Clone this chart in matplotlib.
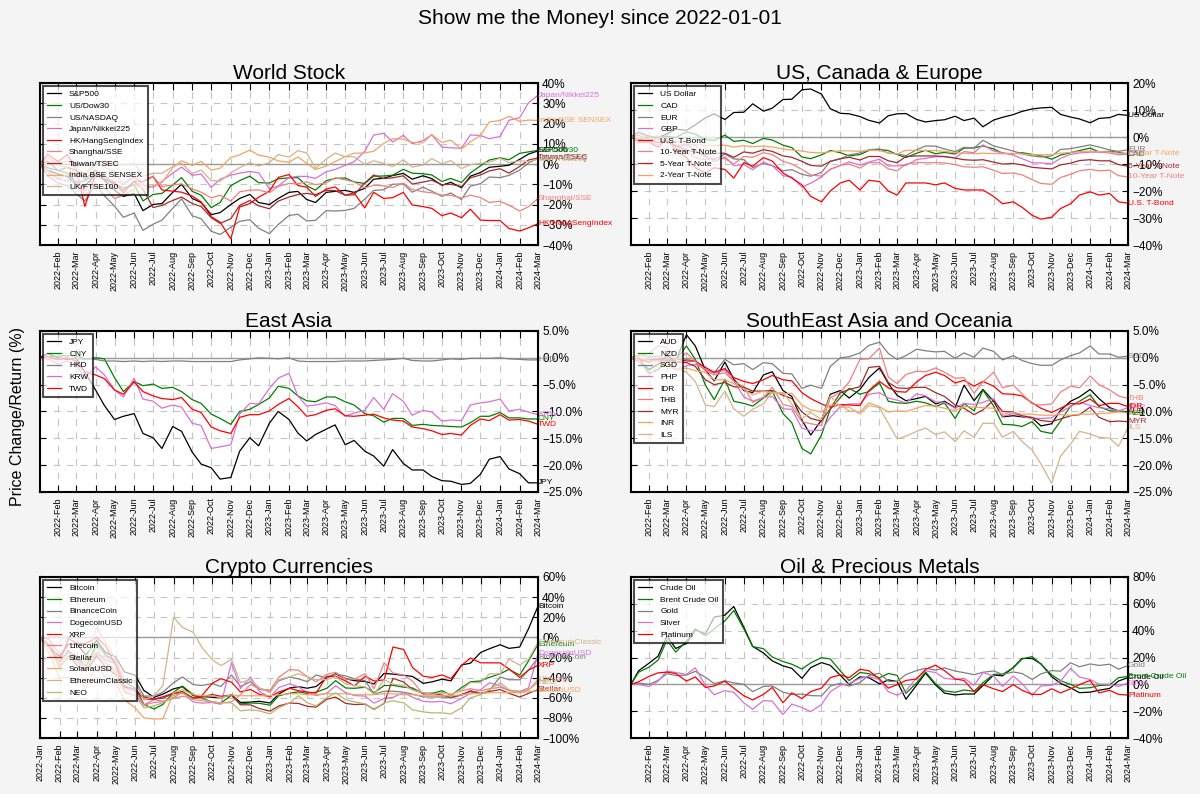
import matplotlib
matplotlib.use("Agg")
import matplotlib.pyplot as plt
import matplotlib.dates as mdates
from matplotlib.ticker import PercentFormatter, MultipleLocator
import pandas as pd

# ---------------- data (percent change since 2022-01-01, semi-monthly samples) ----------------
CRYPTO_DATES = list(pd.date_range("2022-01-01", "2024-03-01", freq="SMS"))
MARKET_DATES = [pd.Timestamp("2022-01-03")] + CRYPTO_DATES[1:]

# World Stock
STOCK_NAMES = ["S&P500", "US/Dow30", "US/NASDAQ", "Japan/Nikkei225", "HK/HangSengIndex",
               "Shanghai/SSE", "Taiwan/TSEC", "India BSE SENSEX", "UK/FTSE100"]
SP500 = [0, -3, -5, -6, -10, -11, -5, -8, -13, -16, -14.5, -23, -20, -19.5, -14, -10, -17, -19, -25, -24, -20, -17, -15, -19,
         -20, -17, -14, -13.5, -17.5, -19, -14, -13.5, -13, -14, -12, -7.5, -7, -5.7, -4.6, -7.5, -5.8, -7.2, -10.5, -9, -11.7, -6, -4.2, -1.6,
         -1.1, -0.6, 2.3, 4.9, 6.5]
DOW30 = [0, -1.8, -3.2, -4.4, -9, -8.3, -4.8, -5.8, -9.6, -11.9, -10.3, -18.2, -15, -14.5, -10.4, -6.7, -13.5, -15.4, -21.5, -19, -10.7, -8.2, -6, -9.2,
         -9.4, -7.3, -6.8, -6.7, -10.7, -12.9, -8.2, -7.1, -6.9, -8.8, -9.6, -6, -5.9, -5.5, -2.6, -4.5, -4.8, -5.4, -8.6, -7.1, -9.1, -4.4, -0.9, 2,
         3.1, 2.1, 5.3, 6, 6.8]
NASDAQ = [0, -5.9, -9.4, -10.7, -14.5, -18.2, -9.9, -15.7, -20.8, -26.3, -24.2, -32.8, -29.7, -27.7, -21.9, -17.2, -25.6, -27, -33.2, -34.8, -31.2, -28.3, -27.5, -31.7,
          -34.4, -29.9, -25.4, -24.8, -28.1, -27.8, -23, -23.2, -22.9, -21.9, -17.3, -13, -12.7, -10, -9.8, -13.9, -11.4, -13.4, -16, -14.3, -17.5, -10.9, -9.7, -6.4,
          -6.7, -5.6, -3, 0.5, 2.8]
NIKKEI = [0, -4, -7.6, -8.3, -8.4, -13.5, -5.6, -7.5, -8.5, -9.4, -6.3, -10.2, -11.5, -8.6, -4.5, -1.5, -5.6, -4.9, -11.5, -7.5, -5.5, -4.5, -3.7, -4.3,
          -12.2, -10.8, -6.7, -6.1, -6.1, -7.1, -3.8, -2.7, -0.6, 1.1, 6.3, 14.3, 15.2, 10.9, 14.2, 10, 11.6, 14.4, 8.4, 8, 7.8, 14.4, 14.1, 12.5,
          13.6, 21.6, 22.9, 30.2, 34]
HANGSENG = [0, 4.8, 1.2, 4.6, -2.2, -20.9, -5.3, -7.5, -9.3, -14.3, -8.5, -8.5, -6.1, -12.8, -13.4, -13.9, -15.8, -18.7, -26, -28.7, -36.9, -21.2, -19.5, -16.4,
            -13.4, -6.6, -5.2, -10.6, -11.4, -16, -12.3, -11.3, -15.4, -14.2, -21.7, -14, -17, -16.6, -14, -20.2, -21, -21.9, -25.5, -24.2, -26.5, -22.3, -27.7, -27.9,
            -27.9, -31.8, -33.1, -31.5, -29.5]
SSE = [0, -3, -7.5, -5.1, -4, -15.6, -9.6, -11.6, -17, -15.4, -12.4, -9, -6.2, -11.1, -10.3, -9.8, -12.3, -13.9, -16.7, -15.4, -18.3, -13.7, -12.9, -12.8,
       -14.2, -11.1, -9.6, -9.7, -8.8, -10.2, -9.3, -6.8, -7.8, -8.8, -11.8, -10.5, -10.7, -11.6, -9.4, -12.6, -13.7, -14.2, -15.3, -15.4, -16.8, -15.4, -16.5, -19,
       -18.4, -20.3, -23.2, -21.1, -17]
TSEC = [0, 1.4, -3.3, -1.6, -3.1, -7.4, -3.1, -7.5, -9.9, -13, -8.7, -12.4, -21.5, -20.4, -18, -16.3, -19.5, -21, -26.5, -29.3, -27, -20.4, -18, -20.6,
        -22.1, -18.3, -16.3, -15.1, -14.5, -15.1, -13, -13.1, -15.4, -15.2, -9.3, -5.4, -7.2, -6.8, -5.8, -9.9, -8.9, -8, -10.2, -10, -11.1, -6.8, -5.4, -3.4,
        -2.3, -4.5, -1.2, 2, 3]
SENSEX = [0, 3.4, -0.5, -1.8, -6.3, -5.8, 0.2, -1.4, -3.7, -10.5, -6.4, -13.2, -10.6, -9.2, -1.8, 1.6, -0.7, 1.3, -3, -2.1, 3.3, 4.5, 6.9, 4.4,
          3.4, 1.5, 0.9, 3.5, 0.4, -2.7, -1, 1.2, 3.7, 5.3, 5.5, 6.3, 10.2, 12.5, 12.3, 10.7, 10.5, 14.6, 10.7, 11.8, 7.4, 11, 14, 20.8,
          21.5, 23.6, 21.1, 21.7, 21.5]
FTSE100 = [0, 0.5, 0.4, 1.4, -2.3, -4.4, 0.4, 1.5, 0.8, -0.5, 0.4, -6.1, -4.5, -4.6, -1.2, 0.4, -4.7, -3, -8.1, -8.5, -4.3, -1.8, 0.7, -1,
           0.7, 4.7, 3.4, 6.6, 5.5, -2.1, 2.4, 5.4, 3.6, 3.6, -0.2, 1.6, 0.3, -1.3, 2.1, -1.5, -0.5, 2.7, 0.1, 1.7, -2.2, -0.3, 0.3, 0.9,
           2.9, 0.7, 1.6, 1.2, 2.4]

# US, Canada & Europe
USCE_NAMES = ["US Dollar", "CAD", "EUR", "GBP", "U.S. T-Bond", "10-Year T-Note", "5-Year T-Note", "2-Year T-Note"]
USD = [0, -1, 0, -0.2, 1.2, 2.9, 2.5, 4.5, 7.1, 8.6, 6.5, 9.1, 9.2, 12.3, 9.6, 10.7, 13.9, 14, 17.5, 17.8, 15.9, 10.5, 8.8, 8.6,
       7.6, 6.2, 5.2, 7.9, 8.6, 8.7, 6.5, 5.6, 6.1, 6.4, 7.7, 6.1, 7, 3.8, 6.3, 7.3, 8.3, 9.5, 10.4, 10.8, 11, 8.4, 7.4, 6.7,
       5.3, 6.9, 7.2, 8.4, 8]
CAD = [0, 1.9, 0.3, 0, 0.3, -0.2, 1.9, 1.1, -0.9, -1.2, 0.7, -1.6, -1.2, -2.4, -0.5, -1.1, -3, -3.9, -7.4, -8, -6.6, -5, -5.8, -7,
       -6.5, -5, -4.6, -5, -6.5, -7.6, -6, -4.9, -6.2, -5.7, -6.3, -4.1, -4, -3.3, -4.4, -6, -6.2, -5.8, -6.4, -6.9, -8.2, -6.7, -5.8, -5,
       -4.1, -5.5, -5.3, -5.7, -6.3]
EUR = [0, 0.7, -1.1, -0.1, -2.1, -3.6, -2.8, -4.9, -7.3, -8.4, -6.3, -8.1, -8.4, -11.3, -9.8, -10.6, -12.5, -12.1, -13.8, -14.5, -13.1, -9, -8.1, -6.6,
       -5.9, -4.7, -4.4, -6, -6.2, -6.9, -4.7, -3.3, -3.4, -4.4, -5.4, -3.8, -4.1, -1.2, -3.3, -4.1, -5.2, -6.2, -7, -7.4, -7, -4.6, -4.3, -3.7,
       -2.9, -3.7, -4.8, -5.3, -4.7]
GBP = [0, 1.5, -0.2, 0.4, -1.1, -3.2, -2.7, -3.1, -6.8, -9.1, -7.3, -10.6, -10.2, -12.1, -9.3, -10.6, -14.3, -14.8, -18.5, -17.1, -14.8, -11.9, -10.5, -9.2,
       -10.4, -9.3, -8.2, -10.7, -10.7, -10.5, -8.3, -7.9, -7.3, -7.3, -7.7, -5.4, -5.8, -2.9, -5.2, -5.8, -6.7, -8, -9.5, -9.6, -9.9, -7.9, -6.4, -5.9,
       -5.6, -5.6, -5.9, -6.6, -6.2]
TBOND = [0, -1.9, -1.9, -3.8, -0.6, -5, -7.6, -11.4, -13.3, -11.4, -12, -15.2, -9.5, -10.8, -7.6, -8.9, -13.3, -15.2, -17.7, -22, -24, -20, -17, -16,
         -19.6, -16, -16.5, -20, -21.5, -17, -17, -17, -17.7, -17, -19, -19.6, -19.6, -19.6, -22, -24.7, -24, -26, -29, -30.4, -29.7, -26.5, -24.7, -21.5,
         -20.3, -21.5, -20.9, -24, -24.5]
TNOTE10 = [0, -1.5, -1.8, -2.8, -1.5, -4.2, -5.5, -7.5, -8.5, -7.8, -8, -10, -7.2, -7.5, -5.8, -6.5, -9, -10, -12, -14, -14.5, -12, -10.5, -10,
           -11.5, -9.5, -9.5, -11.8, -12.5, -10, -9.5, -9.5, -9.5, -9.6, -10.2, -11, -11.2, -11, -12.3, -13.5, -13.3, -14, -15.8, -17.2, -17.5, -15, -13.8, -12.5,
           -12, -12.5, -12.3, -14.3, -14.8]
TNOTE5 = [0, -1, -1.3, -2, -1.3, -3.2, -4.8, -5.6, -6.5, -6, -6, -7.5, -5.5, -6, -4.7, -5.3, -7, -7.5, -9, -10.5, -10.8, -9, -8, -7.5,
          -8.5, -7.2, -7.2, -8.8, -9.5, -7.2, -7, -7, -7, -7.2, -7.8, -8.4, -8.6, -8.4, -9.3, -10, -9.8, -10.3, -11.2, -11.5, -11.8, -10.3, -9.7, -8.7,
          -8.4, -8.8, -8.8, -10.2, -10.8]
TNOTE2 = [0, -0.3, -0.6, -1, -0.9, -1.6, -2.5, -2.8, -3.1, -3.1, -3, -3.7, -3.2, -3.6, -3.3, -3.7, -4.4, -4.8, -5.2, -5.7, -5.9, -5.4, -5.1, -5.1,
          -5.3, -4.9, -5, -5.9, -6.3, -4.9, -4.9, -5, -5, -5.3, -5.8, -6, -6.2, -6, -6.1, -6.2, -6, -6.3, -6.5, -6.6, -6.5, -6, -5.7, -5.4,
          -5.2, -5.4, -5.5, -6, -6]

# East Asia
EA_NAMES = ["JPY", "CNY", "HKD", "KRW", "TWD"]
JPY = [0, 0.8, 0, -0.3, 0, -2.7, -6, -8.9, -11.5, -10.9, -10.4, -14.1, -14.9, -16.9, -12.8, -13.7, -17.6, -19.8, -20.5, -22.6, -22.3, -17.4, -14.9, -16.4,
       -12.2, -10, -11.5, -14, -15.5, -14.3, -13.3, -12.5, -16.2, -15.4, -17.4, -18.3, -20.2, -17.1, -19.7, -20.9, -20.9, -22.1, -22.9, -23, -23.6, -23.4, -21.7, -18.9,
       -18.4, -20.7, -21.6, -23.3, -23.3]
CNY = [0, 0.2, 0.3, 0.4, 0.4, -0.2, 0, -0.2, -3.7, -6.3, -4.4, -5.2, -4.9, -5.7, -5.5, -6.3, -7.8, -8.5, -10.5, -11.3, -12.4, -10, -9.6, -8.7,
       -7.5, -5.3, -5.7, -7.1, -8, -8.2, -7.3, -7.3, -8.2, -8.8, -10.4, -10.8, -12, -11.3, -11.3, -12.6, -12.4, -12.6, -12.7, -12.8, -12.9, -12.1, -10.9, -10.9,
       -10.2, -11.2, -11.2, -11.4, -11.4]
HKD = [0, -0.2, -0.1, -0.1, -0.2, -0.3, -0.3, -0.6, -0.6, -0.7, -0.6, -0.7, -0.6, -0.7, -0.6, -0.6, -0.7, -0.7, -0.7, -0.7, -0.7, -0.4, -0.2, 0.0,
       -0.1, -0.2, 0.0, -0.6, -0.7, -0.7, -0.7, -0.7, -0.6, -0.6, -0.6, -0.5, -0.4, -0.3, -0.1, -0.5, -0.6, -0.6, -0.4, -0.2, -0.3, -0.1, -0.1, -0.1,
       0.0, -0.2, -0.3, -0.4, -0.4]
KRW = [0, -0.2, -1.2, -0.6, -1.2, -3.8, -1.7, -3.2, -6, -7.3, -3.8, -7.7, -8.1, -9.4, -8.8, -9.2, -12.2, -12.6, -16.9, -16.6, -16.2, -10.5, -8.5, -8.6,
       -5.7, -3.8, -2.9, -7.1, -9, -8.8, -8.4, -8.9, -10.9, -10.3, -9.8, -7.4, -9.6, -6.7, -8.1, -10.7, -9.8, -10.1, -11.8, -11.6, -11.7, -8.8, -8.4, -8.2,
       -7.7, -9.9, -9.6, -10.1, -10.6]
TWD = [0, 0.3, -0.4, 0, -0.6, -2.6, -3.2, -3.9, -6, -6.8, -4.5, -6.3, -7.1, -7.6, -7.8, -7.4, -9.6, -10.2, -12.9, -13.6, -14.1, -11.1, -10.6, -10.6,
       -9.9, -8.7, -7.6, -9.1, -10.9, -10.6, -9.8, -9.5, -10.8, -10.9, -10.7, -10.5, -11.2, -11.6, -11.8, -12.9, -13.2, -13.6, -14.3, -14.1, -14.4, -12.6, -11.4, -11.7,
       -10.6, -11.6, -11.5, -11.8, -12.4]

# SouthEast Asia and Oceania
SEA_NAMES = ["AUD", "NZD", "SGD", "PHP", "IDR", "THB", "MYR", "INR", "ILS"]
AUD = [0, -0.6, -2.2, -1.2, 0.4, -0.6, 4.3, 2.2, -2.3, -4.3, -0.8, -4, -6.1, -6.5, -3.2, -2.6, -6.1, -7.2, -11.6, -14.4, -11.6, -6.8, -6.1, -7.5,
       -5.9, -3.7, -1.9, -4.8, -7, -8, -7.6, -7.2, -8.6, -8.1, -9.3, -5.1, -8, -5.9, -8.1, -11, -10.8, -11, -11.2, -12.7, -12.3, -9.8, -8.1, -7.3,
       -5.9, -7.6, -9.3, -9.9, -10.1]
NZD = [0, 0, -2.9, -2.2, -0.7, -0.4, 2.2, -0.3, -5.1, -7.8, -4, -8.1, -8.5, -9, -7.5, -6.2, -10.4, -12.1, -16.9, -17.9, -14.4, -9.6, -7.4, -5.7,
       -6.8, -6.3, -4.7, -8.1, -8.4, -8.5, -8.1, -8.4, -9.1, -8.4, -11.3, -8.5, -9.9, -6, -9, -12.4, -12.5, -12.8, -11.9, -13.7, -14.1, -11.8, -9, -8.1,
       -6.9, -9.1, -9.9, -9.9, -10.3]
SGD = [0, 0.5, 0.2, 0.3, -0.3, -0.9, -0.3, -0.6, -2.2, -2.8, -0.3, -1.3, -1.1, -2.2, -0.9, -1.1, -2.9, -3, -5.7, -5.1, -5.7, -1.6, 0, 0.2,
       0.9, 2.3, 2.9, 0.8, -0.3, 0.4, 1.6, 1.3, 1.1, 1.2, -0.1, 0.9, 0.1, 1.8, 1.2, -0.4, 0.4, -0.5, -1.1, -1.4, -1.4, -0.4, 0.4, 0.9,
       2.2, 0.7, 0.7, 0.1, 0.3]
PHP = [0, -0.6, -0.5, -0.5, -0.7, -2.2, -1.5, -1.2, -2.1, -2.9, -2.3, -4.3, -7.3, -8.1, -7.4, -7.2, -9.5, -9.6, -13.1, -13.6, -13.5, -11.1, -9.1, -8.6,
       -8.6, -6.8, -6.5, -7.5, -7.9, -8.4, -6.7, -7.1, -8.2, -8.3, -9.4, -8.5, -8.7, -8.3, -7.6, -10.9, -10.4, -10.9, -11.3, -11.3, -11.2, -10.1, -9.1, -8.2,
       -8.9, -9.3, -9.5, -9.9, -9.3]
IDR = [0, -0.4, -0.8, -0.3, -0.5, -0.2, -0.6, -0.6, -1.8, -2.7, -2, -3.7, -4.4, -4.8, -4.1, -3.3, -4.1, -4.3, -6.5, -7.6, -8.6, -9.2, -8.7, -8.8,
       -8.9, -6.1, -4.4, -5.6, -6.3, -6.4, -4.5, -3.3, -2.7, -3.3, -4.7, -4.2, -5.3, -4.4, -5.3, -6.7, -6.8, -7.1, -8.4, -9.4, -10.2, -9.4, -8.5, -8.6,
       -7.7, -8.9, -8.5, -8.5, -9.1]
THB = [0, 0.3, 0.9, 2.2, 1.9, -0.5, 0.9, -0.7, -2.4, -3.2, -2.8, -4.4, -5.4, -8.3, -7.4, -5.5, -8.7, -9.1, -11.9, -12.3, -12.6, -7.5, -6.4, -4.5,
       -0.3, -0.2, 1.8, -3.6, -4.8, -3.1, -2.5, -2.6, -1.9, -2.7, -3.8, -3.7, -6.6, -4.5, -2.7, -5.6, -5.1, -6.7, -8.6, -8.8, -8.6, -6.4, -5.3, -5.6,
       -3.4, -5, -6, -7.1, -7.6]
MYR = [0, -0.2, -0.4, -0.2, -0.2, -0.8, -0.9, -1.6, -4.1, -5, -4.6, -5.4, -5.5, -6.2, -6.2, -6.1, -7, -7.6, -10.1, -11.3, -11.8, -9.5, -6.5, -5.9,
       -5.4, -1.8, -1.6, -4.6, -5.6, -5.7, -5.5, -5.5, -6.5, -7.2, -8.8, -9.4, -10.6, -9.7, -7.9, -10, -10.1, -10.8, -11.1, -11.7, -11.9, -11.4, -10.8, -10.6,
       -9.2, -11.1, -11.9, -11.8, -11.9]
INR = [0, 0.1, -0.6, -0.6, -1.4, -2.3, -1.9, -2.4, -2.7, -4.1, -4.1, -4.8, -5.9, -6.9, -6.2, -6.6, -6.7, -6.6, -8.8, -9.7, -10.1, -8.8, -8.8, -9.9,
       -10.1, -8.4, -9.1, -10.1, -9.9, -10, -9.4, -8.9, -9, -9.4, -9.8, -9.1, -9.2, -9.3, -9.4, -10.5, -10.2, -10.5, -10.5, -10.7, -10.7, -10.6, -10.7, -10.5,
       -10.5, -10.4, -10.3, -10.1, -10.2]
ILS = [0, -0.4, -3.3, -1.4, -0.9, -1.9, -2.7, -4.4, -8.8, -9.1, -6.2, -9.5, -10.9, -9.6, -8.6, -6.4, -6.5, -8.6, -11.3, -10.2, -11.5, -7.1, -9.2, -9.2,
       -10.5, -8.9, -9.3, -12.2, -15.1, -14.6, -13.7, -13.1, -14.3, -13.8, -15.6, -13.6, -14.8, -12.2, -12.2, -14.8, -13.7, -15.6, -17.2, -19.8, -23.4, -18.3, -16.1, -13.7,
       -14.2, -14.8, -15, -16.5, -13]

# Crypto Currencies
CRYPTO_NAMES = ["Bitcoin", "Ethereum", "BinanceCoin", "DogecoinUSD", "XRP", "Litecoin", "Stellar",
                "SolanaUSD", "EthereumClassic", "NEO"]
BITCOIN = [0, -9.6, -18.8, -6.7, -6.9, -17.6, -2.9, -15.1, -19.3, -34.4, -37.5, -52.8, -59.5, -56.4, -51.1, -49, -57.8, -58.7, -59.5, -59.9, -57, -64.6, -64.3, -63.5,
           -65.2, -56.2, -50.3, -49, -50.5, -48.8, -40.2, -36.2, -41.1, -43, -43.8, -46.3, -35.8, -36.5, -37.7, -38.8, -45.7, -44.2, -41.5, -43.2, -27.4, -25.6, -15, -11.3,
           -7.3, -10.9, -9.6, 8.6, 30.9]
ETHEREUM = [0, -9.6, -24.2, -13.7, -19.4, -28.9, -6.3, -17.5, -23.2, -44.1, -50.3, -66.6, -71.2, -66.6, -54.4, -48.4, -56.8, -60.1, -64.4, -65.2, -57.4, -66.1, -65.2, -65.5,
            -67.4, -57.9, -55.5, -54.1, -55.7, -54.4, -50.6, -43, -50.3, -50.6, -49.5, -54.9, -47.9, -47.6, -49.5, -50.3, -55.7, -55.7, -53, -57.6, -49.8, -44.1, -43.3, -39.7,
            -36.2, -31.8, -37.5, -23.4, -6.9]
BINANCE = [0, -7, -28.8, -20.3, -23.1, -27.9, -15.6, -22.2, -26, -43.1, -43.1, -58.3, -58.3, -54.5, -45, -39.3, -46.9, -47.8, -45.9, -48.8, -37.4, -48.8, -44, -51.6,
           -53.5, -43.1, -39.3, -41.2, -44, -37.4, -40.2, -36.4, -38.3, -41.2, -43.1, -56.4, -53.5, -53.5, -54.5, -56.4, -59.2, -59.2, -59.2, -60.2, -57.3, -52.6, -56.4, -52.6,
           -39.3, -42.1, -42.1, -32.6, -20.3]
DOGE = [0, -1.7, -16.2, -12.1, -22, -33.5, -17.3, -19.1, -24.9, -50.9, -53.8, -67, -61.8, -63.6, -60.1, -54.3, -64.2, -65.3, -64.7, -66.5, -24.9, -50.9, -39.3, -53.8,
        -59.5, -49.7, -46.2, -49.1, -54.9, -57.8, -55.5, -48, -54.9, -57.8, -58.4, -65.3, -60.7, -59.5, -54.9, -59.5, -63.6, -64.2, -63.6, -65.9, -60.7, -55.5, -52, -45.1,
        -48, -53.2, -53.8, -50.3, -16]
XRP = [0, -8.4, -25.3, -1.2, -6, -6, 0, -8.4, -27.7, -49.4, -51.8, -61.4, -61.4, -59, -55.4, -55.4, -60.2, -57.8, -45.8, -41, -44.6, -54.2, -51.8, -56.6,
       -59, -54.2, -50.6, -53, -54.2, -55.4, -38.6, -38.6, -43.4, -48.2, -38.6, -43.4, -42.2, -9.6, -12, -30, -38.6, -39.8, -37.3, -41, -27.7, -20.5, -25.3, -25.3,
       -25.3, -31.3, -39.8, -32.5, -27.7]
LITECOIN = [0, -1.4, -25.2, -15, -21.8, -28.6, -15, -25.2, -32, -53.7, -57.8, -67.3, -64.6, -63.9, -60.5, -58.5, -60.5, -61.2, -63.9, -65.3, -63.9, -57.1, -46.9, -51,
            -52.4, -39.5, -32, -32.7, -38.8, -44.2, -36.7, -34.7, -41.5, -41.5, -36.1, -51, -25.2, -35.4, -37.4, -43.5, -56.5, -56.5, -55.1, -56.5, -53.1, -51, -53.1, -51,
            -49.7, -52.4, -53.7, -52.4, -42.2]
STELLAR = [0, -7.4, -29.6, -18.5, -27.8, -33.3, -18.5, -29.6, -37, -48.1, -51.9, -59.3, -61.1, -60.4, -55.6, -53.7, -60.4, -59.3, -56.7, -58.5, -57.4, -67, -67, -70.7,
           -73.3, -68.1, -65.2, -65.6, -68.5, -69.3, -61.5, -59.3, -65.6, -66.7, -66.3, -71.5, -65.6, -40.7, -44.4, -51.9, -55.6, -55.6, -57.4, -59.6, -56.7, -53.7, -55.6, -53.7,
           -51.9, -55.6, -59.3, -55.6, -51.9]
SOLANA = [0, -15, -40, -40, -42, -50, -27, -40, -45, -62, -70, -80, -81, -81, -55, -52, -57, -58, -58, -60, -57, -58, -58, -58,
          -58, -57, -56, -56, -57, -57, -56, -56, -56, -57, -57, -57, -56, -56, -57, -57, -58, -58, -58, -58, -57, -56, -56, -55,
          -55, -55, -55, -54, -53]
ETC = [0, -10, -27.5, -18.8, -18.8, -24.6, 10, -4.3, -21.7, -42, -45, -62.3, -58, -47.8, 20, 10, 5, -10, -22, -28, -22, -45, -42, -50,
       -55, -42, -39.1, -36.2, -39.1, -42, -42, -39.1, -46.4, -47.8, -49.3, -56.5, -42, -46.4, -47.8, -52.2, -55, -56.5, -55, -56.5, -52.2, -44.9, -44.9, -36.2,
       -36.2, -21.7, -27.5, -21.7, -5]
NEO = [0, -10, -30, -20, -25, -32, -10, -25, -35, -55, -58, -70, -68, -65, -58, -55, -62, -63, -64, -65, -65, -73, -72, -73,
       -76, -70, -65, -58, -65, -68, -60, -55, -62, -64, -66, -72, -65, -63, -65, -72, -74, -75, -75, -76, -70, -60, -57, -52,
       -45, -52, -55, -52, -45]

# Oil & Precious Metals
OIL_NAMES = ["Crude Oil", "Brent Crude Oil", "Gold", "Silver", "Platinum"]
CRUDE = [0, 10.1, 15.9, 21, 35.9, 26.7, 30.5, 40.5, 37.6, 50.1, 51.6, 58, 42.5, 28.3, 23.4, 17.5, 13.8, 11.9, 4.5, 12.5, 16.2, 14.2, 6.7, 0,
         5.5, 5, 0.4, 3.3, 2.1, -11.1, -0.5, 8.4, -0.5, -6.5, -7.9, -7.2, -7.2, -0.9, 7, 6.3, 12.5, 19.3, 19.3, 15.3, 5.7, 0.8, -2.6, -6.2,
         -5.8, -4.4, -3, 2.5, 5]
BRENT = [0, 9, 12.9, 18.1, 33, 24, 32.2, 41.4, 36.2, 41.3, 47.3, 55, 41.3, 28.1, 26.6, 20.4, 17, 15, 11.4, 16, 19.9, 18.9, 10, 2.8,
         8.8, 8, 4.8, 8.1, 6.7, -6.7, 1.2, 9.3, 0.4, -4.8, -5.9, -4.2, -5.2, 1.2, 7.5, 7.5, 12.2, 18.9, 20.7, 15.1, 7.1, 2.8, -0.1, -3,
         -2.5, -0.9, -0.4, 5, 5.8]
GOLD = [0, 0.9, 0, 3, 8, 6.6, 6.9, 9.7, 5.3, 0.6, 2.6, 1.1, 0, -5.4, -1.6, -1.2, -5.8, -7.5, -7.3, -8.4, -8.6, -1.3, 0.8, -1.3,
        1.4, 6.7, 8.3, 2.3, 2.1, 7.3, 10.3, 12, 10.6, 12.3, 9.9, 8.7, 7.2, 9, 10, 7.4, 9.2, 8.1, 3.7, 7.8, 10.3, 9.8, 16.1, 13.1,
        15.2, 14.1, 15, 11.3, 14]
SILVER = [0, 0, -1.6, 2.3, 10, 8.8, 7.5, 12.3, -0.7, -7.7, -4.7, -6, -13.8, -18.6, -12.1, -12.5, -22.5, -14.7, -17.3, -20.3, -15.1, -5.5, -0.7, 0.6,
          4.5, 5.8, 3.6, -5.5, -8.1, -4.7, 4.9, 10.1, 8.8, 4.5, 3.6, 4.5, -0.7, 8.8, 6.2, -1.6, 6.2, 0.6, -8.1, -1.2, -0.7, 2.3, 11.9, 5.4,
          3.6, 0.1, 0.1, -1.6, 1]
PLATINUM = [0, 1.9, 6, 8.6, 9.1, 8.1, 2.4, 5.5, -2.3, -1.2, 2.4, -2.8, -8.5, -11.6, -7.5, -2.3, -13.7, -6.4, -10.6, -5.4, -2.8, 5, 7.1, 5,
            11.2, 10.2, 4, -2.8, -0.2, 2.9, 4, 11.2, 14.3, 10.2, 4, 2.9, -5.4, -0.2, -3.3, -5.4, -0.2, -4.4, -7.5, -7.5, -3.3, -6.4, -3.3, -0.2,
            2.9, -6.4, -4.4, -7.5, -8]

COLORS = ["black", "green", "gray", "orchid", "red", "lightcoral", "brown", "sandybrown", "tan", "darkkhaki"]

# ---------------- figure ----------------
plt.rcParams["font.family"] = ["Liberation Sans", "DejaVu Sans"]
plt.rcParams["axes.unicode_minus"] = True

fig = plt.figure(figsize=(12, 7.94), dpi=100, facecolor="#f4f4f4")

panels = [
    ("World Stock", MARKET_DATES, STOCK_NAMES,
     [SP500, DOW30, NASDAQ, NIKKEI, HANGSENG, SSE, TSEC, SENSEX, FTSE100], (-40, 40), 10, 0,
     [0.0333, 0.6914, 0.415, 0.2040]),
    ("US, Canada & Europe", MARKET_DATES, USCE_NAMES,
     [USD, CAD, EUR, GBP, TBOND, TNOTE10, TNOTE5, TNOTE2], (-40, 20), 10, 0,
     [0.5258, 0.6914, 0.4142, 0.2040]),
    ("East Asia", MARKET_DATES, EA_NAMES,
     [JPY, CNY, HKD, KRW, TWD], (-25, 5), 5, 1,
     [0.0333, 0.3804, 0.415, 0.2028]),
    ("SouthEast Asia and Oceania", MARKET_DATES, SEA_NAMES,
     [AUD, NZD, SGD, PHP, IDR, THB, MYR, INR, ILS], (-25, 5), 5, 1,
     [0.5258, 0.3804, 0.4142, 0.2028]),
    ("Crypto Currencies", CRYPTO_DATES, CRYPTO_NAMES,
     [BITCOIN, ETHEREUM, BINANCE, DOGE, XRP, LITECOIN, STELLAR, SOLANA, ETC, NEO], (-100, 60), 20, 0,
     [0.0333, 0.0705, 0.415, 0.2028]),
    ("Oil & Precious Metals", MARKET_DATES, OIL_NAMES,
     [CRUDE, BRENT, GOLD, SILVER, PLATINUM], (-40, 80), 20, 0,
     [0.5258, 0.0705, 0.4142, 0.2028]),
]

for title, dates, names, series, ylim, ystep, dec, pos in panels:
    ax = fig.add_axes(pos)
    ax.set_facecolor("white")
    ax.grid(True, which="major", axis="both", color="#c4c4c4", linestyle=(0, (6, 6)), linewidth=0.8)
    ax.set_axisbelow(True)
    ax.axhline(0, color="#9a9a9a", linewidth=1.0, zorder=1)
    for i, (name, vals) in enumerate(zip(names, series)):
        c = COLORS[i]
        ax.plot(dates, vals, color=c, linewidth=0.9, label=name, zorder=2)
        ax.text(dates[-1], vals[-1], name, color=c, fontsize=6, ha="left", va="center", clip_on=False)
    ax.set_xlim(dates[0], dates[-1])
    ax.set_ylim(*ylim)
    ax.yaxis.set_major_locator(MultipleLocator(ystep))
    ax.yaxis.set_major_formatter(PercentFormatter(xmax=100, decimals=dec))
    ax.xaxis.set_major_locator(mdates.MonthLocator())
    ax.xaxis.set_major_formatter(mdates.DateFormatter("%Y-%b"))
    ax.tick_params(axis="x", which="major", direction="in", top=True, bottom=True,
                   length=5, width=0.8, labelsize=6.5, labelrotation=90, pad=4)
    ax.tick_params(axis="y", which="major", direction="in", left=True, right=True,
                   labelleft=False, labelright=True, length=4, width=0.8, labelsize=8.5, pad=3)
    for sp in ax.spines.values():
        sp.set_linewidth(1.5)
        sp.set_color("black")
    ax.set_title(title, fontsize=15, pad=3)
    leg = ax.legend(loc="upper left", fontsize=6, frameon=True, fancybox=False, framealpha=0.7,
                    edgecolor="black", labelspacing=0.45, handlelength=1.6, handletextpad=1.0,
                    borderpad=0.5, borderaxespad=0.4)
    leg.get_frame().set_linewidth(1.5)

fig.text(0.5, 0.977, "Show me the Money! since 2022-01-01", ha="center", va="center", fontsize=15)
fig.text(0.015, 0.476, "Price Change/Return (%)", ha="center", va="center", rotation=90, fontsize=11.5)

fig.savefig("out.png", dpi=100, facecolor=fig.get_facecolor())
